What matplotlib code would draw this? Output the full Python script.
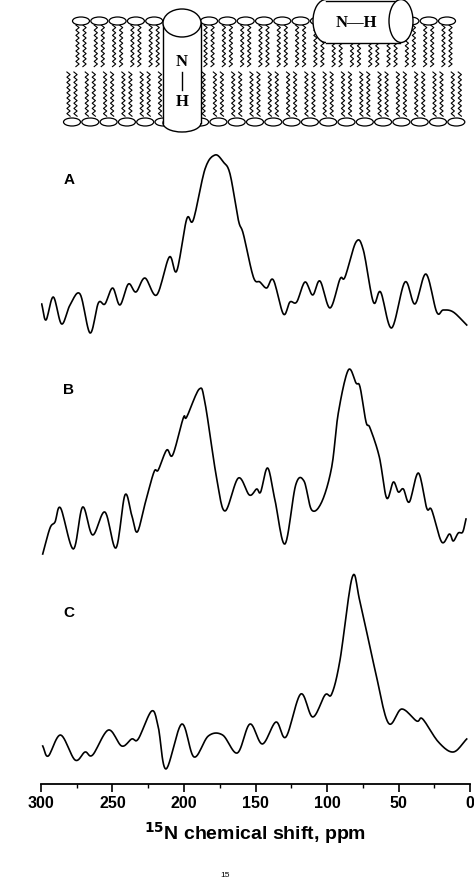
import numpy as np
import matplotlib
matplotlib.use("Agg")
import matplotlib.pyplot as plt
from matplotlib.patches import Ellipse, Rectangle

plt.rcParams["font.family"] = ["Liberation Sans", "DejaVu Sans"]

# spectra: chemical shift (ppm) and intensity (arb.)
ppm_a = [299.5, 296.5, 291.4, 285.6, 279.7, 272.7, 265.7, 259.9, 255.3, 249.9, 244.8, 238.9, 233.6,
         227.3, 219.1, 210.3, 205.1, 198.1, 193.5, 185.3, 178.3, 172.5, 167.8, 162.0, 158.5, 151.5,
         146.9, 142.2, 137.5, 130.5, 125.9, 121.2, 115.4, 110.0, 104.9, 97.9, 90.9, 87.4, 79.7, 74.6,
         67.6, 62.5, 54.8, 45.5, 38.5, 30.8, 23.3, 18.7, 11.7, 2.3]
int_a = [33, 17, 40, 13, 32, 43, 4, 34, 33, 49, 32, 53, 45, 59, 42, 80, 66, 118, 117, 168, 182, 175,
         163, 117, 103, 60, 55, 49, 57, 23, 35, 35, 55, 42, 56, 29, 58, 60, 95, 87, 35, 45, 9, 55, 33,
         63, 25, 27, 25, 12]

ppm_b = [298.8, 293.7, 290.2, 286.3, 277.4, 270.9, 263.9, 255.3, 247.6, 241.3, 236.6, 232.7, 227.3,
         221.0, 218.0, 212.1, 207.9, 200.5, 198.1, 189.3, 185.3, 177.2, 171.3, 162.0, 154.3, 149.2,
         146.4, 141.5, 136.4, 129.4, 121.9, 116.1, 110.7, 103.7, 96.7, 92.1, 85.1, 79.7, 76.9, 72.7,
         69.9, 63.4, 58.3, 53.6, 50.1, 46.6, 42.4, 36.1, 30.3, 26.8, 19.8, 14.4, 11.7, 8.2, 5.1, 2.8]
int_b = [6, 32, 38, 52, 11, 53, 25, 48, 12, 65, 45, 28, 56, 88, 90, 110, 105, 142, 143, 171, 157, 82,
         49, 82, 65, 71, 68, 92, 60, 16, 75, 79, 50, 58, 93, 147, 190, 177, 173, 138, 132, 103, 62, 78,
         68, 71, 58, 87, 52, 50, 18, 26, 19, 27, 28, 41]

ppm_c = [298.8, 294.9, 286.3, 276.2, 269.2, 263.9, 252.9, 243.6, 236.6, 232.0, 222.6, 218.0, 212.6,
         201.6, 193.0, 183.0, 173.0, 162.7, 153.9, 145.2, 135.7, 128.7, 118.4, 110.0, 101.4, 96.7,
         90.9, 82.3, 76.9, 66.4, 57.1, 47.8, 37.3, 33.1, 22.1, 11.7, 2.3]
int_c = [24, 14, 35, 10, 18, 15, 40, 24, 31, 31, 59, 43, 1, 46, 13, 34, 35, 17, 46, 26, 48, 33, 76,
         53, 75, 76, 110, 193, 168, 100, 47, 61, 49, 51, 28, 18, 31]

labels = ["A", "B", "C"]
offsets = [447, 224, 14]


def smooth(x, y, n=12):
    # Catmull-Rom curve through the read points, only for drawing
    x = np.asarray(x, float)
    y = np.asarray(y, float)
    px = np.concatenate([[2 * x[0] - x[1]], x, [2 * x[-1] - x[-2]]])
    py = np.concatenate([[2 * y[0] - y[1]], y, [2 * y[-1] - y[-2]]])
    t = np.linspace(0, 1, n, endpoint=False)[:, None]
    out = []
    for arr in (px, py):
        p0, p1, p2, p3 = arr[:-3], arr[1:-2], arr[2:-1], arr[3:]
        c = 0.5 * (2 * p1 + (-p0 + p2) * t + (2 * p0 - 5 * p1 + 4 * p2 - p3) * t ** 2
                   + (-p0 + 3 * p1 - 3 * p2 + p3) * t ** 3)
        out.append(np.append(c.T.ravel(), arr[-2]))
    return out


W, H = 474, 881
fig = plt.figure(figsize=(W / 100, H / 100), dpi=100)

# ---- spectra
ax = fig.add_axes([41 / W, 1 - 784 / H, 429 / W, 634 / H])
for xs, ys, off, lab, ly in zip([ppm_a, ppm_b, ppm_c], [int_a, int_b, int_c], offsets, labels,
                                [180, 390, 613]):
    sx, sy = smooth(xs, ys)
    ax.plot(sx, np.array(sy) + off, color="black", lw=1.2)
    ax.text(69 / W, 1 - ly / H, lab, transform=fig.transFigure, fontsize=11, fontweight="bold",
            ha="center", va="center")
ax.set_xlim(300, 0)
ax.set_ylim(0, 634)
for s in ["top", "left", "right"]:
    ax.spines[s].set_visible(False)
ax.spines["bottom"].set_linewidth(1.3)
ax.set_yticks([])
ax.set_xticks([300, 250, 200, 150, 100, 50, 0])
ax.set_xticks(np.arange(0, 301, 25), minor=True)
ax.tick_params(axis="x", which="major", length=6, width=1.2, labelsize=11.5, pad=3)
ax.tick_params(axis="x", which="minor", length=3, width=1.0)
for t in ax.get_xticklabels():
    t.set_fontweight("bold")
ax.set_xlabel(r"$^{\mathbf{15}}$N chemical shift, ppm", fontsize=14, fontweight="bold", labelpad=6)
fig.text(225 / W, 1 - 879 / H, "15", fontsize=6, ha="center", va="bottom")

# ---- membrane sketch
mx = fig.add_axes([0, 1 - 150 / H, 1, 150 / H])
mx.set_xlim(0, W)
mx.set_ylim(150, 0)
mx.axis("off")


def tail(x0, y0, y1):
    ys = np.arange(min(y0, y1), max(y0, y1), 2.6)
    xs = x0 + np.where(np.arange(len(ys)) % 2 == 0, -1.6, 1.6)
    mx.plot(xs, ys, color="black", lw=0.8, zorder=1)


top_heads = np.arange(81, 458, 18.3)
bot_heads = np.arange(72, 466, 18.3)
for hx in top_heads:
    tail(hx - 3.5, 25, 68)
    tail(hx + 3.5, 25, 68)
    mx.add_patch(Ellipse((hx, 21), 17, 8, fc="white", ec="black", lw=0.9, zorder=2))
for hx in bot_heads:
    tail(hx - 3.5, 72, 118)
    tail(hx + 3.5, 72, 118)
    mx.add_patch(Ellipse((hx, 122), 17, 8, fc="white", ec="black", lw=0.9, zorder=2))

# vertical helix
mx.add_patch(Ellipse((182, 123), 38, 18, fc="white", ec="black", lw=1.0, zorder=5))
mx.add_patch(Rectangle((163, 23), 38, 100, fc="white", ec="none", zorder=6))
mx.plot([163, 163], [23, 123], color="black", lw=1.0, zorder=7)
mx.plot([201, 201], [23, 123], color="black", lw=1.0, zorder=7)
mx.add_patch(Ellipse((182, 23), 38, 28, fc="white", ec="black", lw=1.0, zorder=8))
mx.text(182, 62, "N", fontsize=12, fontweight="bold", family="Liberation Serif", ha="center",
        va="center", zorder=9)
mx.plot([182, 182], [72, 90], color="black", lw=1.0, zorder=9)
mx.text(182, 102, "H", fontsize=12, fontweight="bold", family="Liberation Serif", ha="center",
        va="center", zorder=9)

# horizontal helix
mx.add_patch(Ellipse((326, 21), 26, 43, fc="white", ec="black", lw=1.0, zorder=5))
mx.add_patch(Rectangle((326, 0), 74, 43, fc="white", ec="none", zorder=6))
mx.plot([326, 400], [0.5, 0.5], color="black", lw=1.0, zorder=7)
mx.plot([326, 400], [42.5, 42.5], color="black", lw=1.0, zorder=7)
mx.add_patch(Ellipse((401, 21), 24, 43, fc="white", ec="black", lw=1.0, zorder=8))
mx.text(356, 23, "N\u2014H", fontsize=12, fontweight="bold", family="Liberation Serif",
        ha="center", va="center", zorder=9)

fig.savefig("out.png", dpi=100)
